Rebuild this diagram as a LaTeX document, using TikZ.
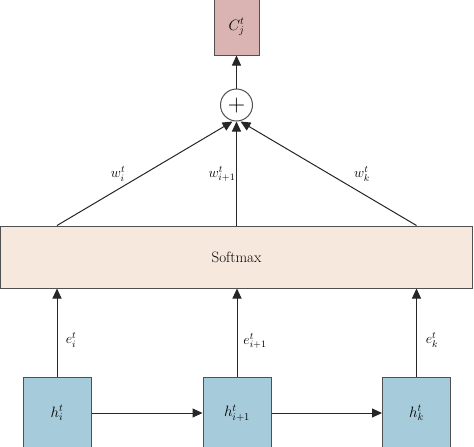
\RequirePackage{fix-cm}
\documentclass[tikz,border=0pt]{standalone}
\usetikzlibrary{arrows.meta}
\definecolor{cpink}{RGB}{217,180,178}
\definecolor{csoft}{RGB}{246,232,220}
\definecolor{cblue}{RGB}{166,203,219}
\definecolor{edge}{RGB}{80,80,80}
\begin{document}
\begin{tikzpicture}[x=1pt,y=-1pt,
  box/.style={draw=edge, line width=1pt, inner sep=0pt},
  arr/.style={draw=black!85, line width=1pt, -{Triangle[length=10pt,width=9pt]}},
  lab/.style={font=\fontsize{14}{16}\selectfont, inner sep=0pt},
  boxfont/.style={font=\fontsize{15}{17}\selectfont}]
\useasboundingbox (0,0) rectangle (474,447);
% boxes
\node[box, boxfont, fill=cpink, minimum width=45pt, minimum height=56pt] (C) at (236.5,27) {$C_{j}^{t}$};
\node[box, circle, fill=white, minimum size=32pt, font=\fontsize{24}{26}\selectfont] (plus) at (236.5,105) {$+$};
\node[box, boxfont, fill=csoft, minimum width=472pt, minimum height=62pt] (sm) at (236.5,257) {Softmax};
\node[box, boxfont, fill=cblue, minimum width=68pt, minimum height=72pt] (h1) at (57,413) {$h_{i}^{t}$};
\node[box, boxfont, fill=cblue, minimum width=68pt, minimum height=72pt] (h2) at (237,413) {$h_{i+1}^{t}$};
\node[box, boxfont, fill=cblue, minimum width=68pt, minimum height=72pt] (h3) at (416.5,413) {$h_{k}^{t}$};
\coordinate (inL) at ([xshift=-4pt]plus.south);
\coordinate (inR) at ([xshift=4pt]plus.south);
% connectors
\draw[arr] (plus) -- (C);
\draw[arr] (sm.north -| h1) -- (inL);
\draw[arr] (sm.north) -- (plus);
\draw[arr] (sm.north -| h3) -- (inR);
\draw[arr] (h1.north) -- (sm.south -| h1.north);
\draw[arr] (h2.north) -- (sm.south -| h2.north);
\draw[arr] (h3.north) -- (sm.south -| h3.north);
\draw[arr] (h1) -- (h2);
\draw[arr] (h2) -- (h3);
% labels
\node[lab] (wi) at (118,174) {$w_{i}^{t}$};
\node[lab] (wi1) at (222,174) {$w_{i+1}^{t}$};
\node[lab] (wk) at (362,174) {$w_{k}^{t}$};
\node[lab] (ei) at (71,340) {$e_{i}^{t}$};
\node[lab] (ei1) at (255,341) {$e_{i+1}^{t}$};
\node[lab] (ek) at (432,340) {$e_{k}^{t}$};
\end{tikzpicture}
\end{document}
